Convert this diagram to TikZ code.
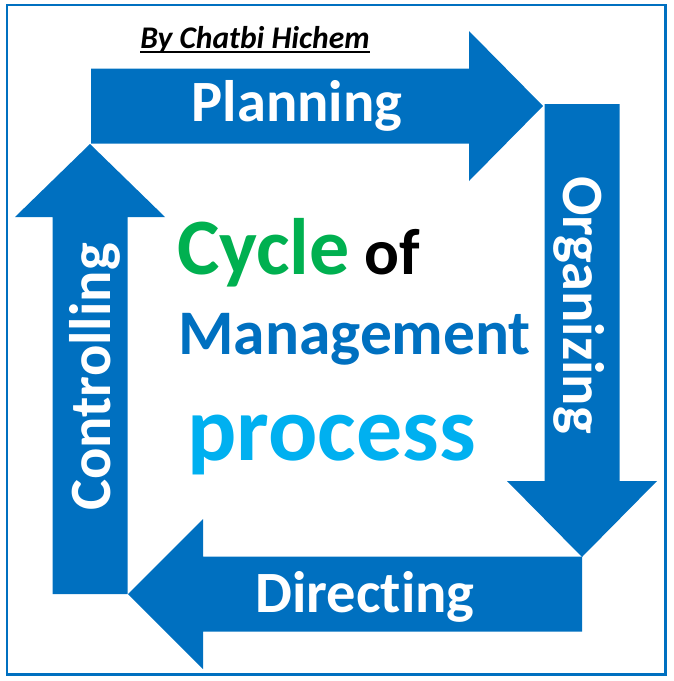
\documentclass[tikz,border=0pt]{standalone}
\usepackage{fontspec}
\setmainfont{Carlito}[Ligatures=NoCommon]
\usepackage{tikz}
\usetikzlibrary{calc}

\definecolor{arrowblue}{HTML}{0070C0}
\definecolor{cyclegreen}{HTML}{00B050}
\definecolor{procblue}{HTML}{00B0F0}

\tikzset{
  blockarrow/.style={fill=arrowblue},
  arrowlabel/.style={text=white,inner sep=0pt,anchor=base,font=\fontsize{58.5}{58.5}\selectfont\bfseries},
  titleline/.style={inner sep=0pt,anchor=base west,font=\bfseries}
}

\begin{document}
\begin{tikzpicture}[x=1pt,y=-1pt]
                      \useasboundingbox (0,0) rectangle (674,681);
                      \draw[arrowblue,line width=2.5pt] (7,5) rectangle (665.5,674.5);
                      % the four arrows
                      \fill[blockarrow] (91,68.5) -- (469,68.5) -- (469,31) -- (543,106) -- (469,181) -- (469,143.5) -- (91,143.5) -- cycle;
                      \fill[blockarrow] (619.5,104) -- (619.5,481) -- (657,481) -- (582,557) -- (507,481) -- (544.5,481) -- (544.5,104) -- cycle;
                      \fill[blockarrow] (582,631.5) -- (203,631.5) -- (203,669) -- (128,594) -- (203,519) -- (203,556.5) -- (582,556.5) -- cycle;
                      \fill[blockarrow] (52.5,594) -- (52.5,217) -- (15,217) -- (90,144) -- (165,217) -- (127.5,217) -- (127.5,594) -- cycle;
                      \node[arrowlabel] (planning) at (297,121) {Planning};
                      \node[arrowlabel,rotate=-90] (organizing) at (563,305) {Organizing};
                      \node[arrowlabel] (directing) at (365,612) {Directing};
                      \node[arrowlabel,rotate=90] (controlling) at (110,377) {Controlling};
                      % author
                      \node[inner sep=0pt,anchor=base,font=\fontsize{31.5}{31.5}\selectfont\bfseries\itshape](author)at(255,48){By Chatbi Hichem};
                      \draw[line width=1.5pt] ([yshift=-4pt]author.base west) -- ([yshift=-4pt]author.base east);
                      % title in the middle
                      \node[titleline,text=cyclegreen,font=\fontsize{80}{80}\selectfont\bfseries](cycle)at(177,274){Cycle};
                      \node[titleline,text=black,font=\fontsize{65}{65}\selectfont\bfseries](of)at([xshift=14pt]cycle.base east){of};
                      \node[titleline,text=arrowblue,font=\fontsize{63.5}{63.5}\selectfont\bfseries](management)at(178,354){Management};
                      \node[titleline,text=procblue,font=\fontsize{92}{92}\selectfont\bfseries](process)at(187,460){process};
                  \end{tikzpicture}
\end{document}
